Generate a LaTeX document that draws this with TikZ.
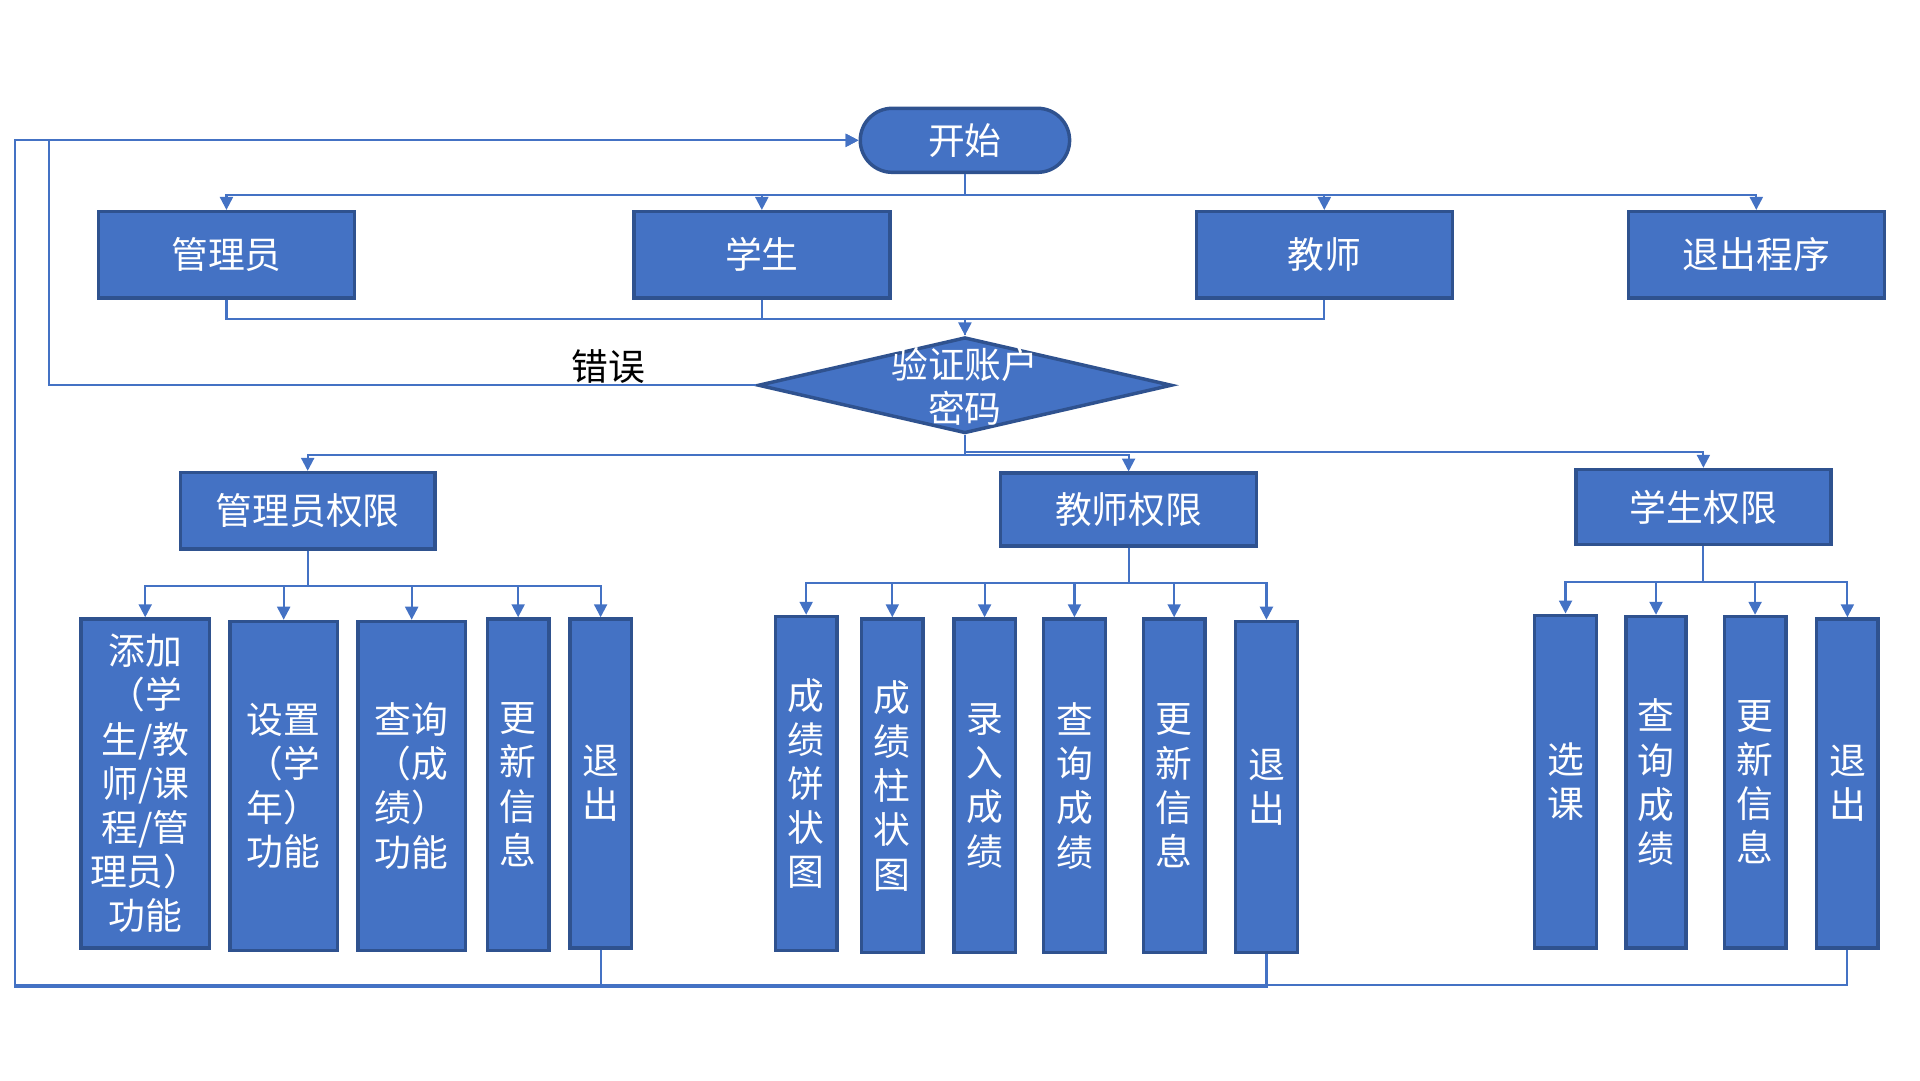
\documentclass[tikz,border=0pt]{standalone}
\usepackage{fontspec}
\setmainfont{Noto Sans CJK SC}
\usetikzlibrary{shapes.geometric,arrows.meta}
\definecolor{boxblue}{HTML}{4472C4}
\definecolor{boxedge}{HTML}{2F528F}
\tikzset{
  box/.style = {draw=boxedge, fill=boxblue, text=white, line width=0.8pt, inner sep=0pt,
                align=center, font=\fontsize{8.5}{10.2}\selectfont},
  link/.style = {draw=boxblue, line width=0.5pt, -{Triangle[length=3pt,width=3pt]}},
  wire/.style = {draw=boxblue, line width=0.5pt}
}
\begin{document}
\begin{tikzpicture}[x=0.01cm, y=-0.01cm]
  \useasboundingbox (0,0) rectangle (1560,878);
  % top row
  \node[box, rounded corners=0.26cm, minimum width=1.7cm, minimum height=0.52cm] (st) at (784,114) {开始};
  \node[box, minimum width=2.08cm, minimum height=0.7cm] (ad) at (184,207) {管理员};
  \node[box, minimum width=2.08cm, minimum height=0.7cm] (su) at (619,207) {学生};
  \node[box, minimum width=2.08cm, minimum height=0.7cm] (te) at (1076,207) {教师};
  \node[box, minimum width=2.08cm, minimum height=0.7cm] (qt) at (1427,207) {退出程序};
  \node[box, diamond, minimum width=3.36cm, minimum height=0.78cm] (dv) at (784,313) {};
  \node[text=white, align=center, font=\fontsize{8.5}{10.2}\selectfont] (dt) at (784,314) {验证账户\\密码};
  \node[font=\fontsize{8.5}{10.2}\selectfont] (err) at (494,298) {错误};
  % permissions
  \node[box, minimum width=2.07cm, minimum height=0.62cm] (pa) at (250,415) {管理员权限};
  \node[box, minimum width=2.08cm, minimum height=0.59cm] (pt) at (917,414) {教师权限};
  \node[box, minimum width=2.07cm, minimum height=0.61cm] (ps) at (1384,412) {学生权限};
  % leaves
  \foreach \n/\x/\y/\w/\h/\t in {
      a1/118/636.5/1.04/2.67/{添加\\（学\\生/教\\师/课\\程/管\\理员）\\功能},
      a2/230.5/638.5/0.87/2.67/{设置\\（学\\年）\\功能},
      a3/334.5/638.5/0.87/2.67/{查询\\（成\\绩）\\功能},
      a4/421/637.5/0.5/2.69/{更\\新\\信\\息},
      a5/488/636.5/0.5/2.67/{退\\出},
      t1/655/636.5/0.5/2.71/{成\\绩\\饼\\状\\图},
      t2/725/638.5/0.5/2.71/{成\\绩\\柱\\状\\图},
      t3/800/638.5/0.5/2.71/{录\\入\\成\\绩},
      t4/873/638.5/0.5/2.71/{查\\询\\成\\绩},
      t5/954/638.5/0.5/2.71/{更\\新\\信\\息},
      t6/1029/639.5/0.5/2.69/{退\\出},
      s1/1272/635/0.5/2.7/{选\\课},
      s2/1345.5/635.5/0.49/2.69/{查\\询\\成\\绩},
      s3/1426/635.5/0.5/2.69/{更\\新\\信\\息},
      s4/1501/636.5/0.5/2.67/{退\\出}}
    \node[box, minimum width=\w cm, minimum height=\h cm] (\n) at (\x,\y) {\t};
  % start to roles
  \foreach \r in {ad,su,te,qt}
    \draw[link] (st.south) -- ++(0,17) -| (\r.north);
  % roles to check
  \foreach \r in {ad,su,te}
    \draw[wire] (\r.south) -- ++(0,16) -| (dv.north);
  \draw[link] (su.south) ++(0,16) -| (dv.north);
  % error back to start
  \draw[link] (dv.west) -- ++(-575,0) |- (st.west);
  % check to permissions
  \draw[link] (dv.south) -- ++(0,16) -| (pa.north);
  \draw[link] (dv.south) -- ++(0,16) -| (pt.north);
  \draw[link] (dv.south) -- ++(0,14) -| (ps.north);
  % permissions to leaves
  \foreach \l in {a1,a2,a3,a4,a5}
    \draw[link] (pa.south) -- ++(0,29) -| (\l.north);
  \foreach \l in {t1,t2,t3,t4,t5,t6}
    \draw[link] (pt.south) -- ++(0,29) -| (\l.north);
  \foreach \l in {s1,s2,s3,s4}
    \draw[link] (ps.south) -- ++(0,29) -| (\l.north);
  % exits back to start
  \draw[link] (a5.south) -- ++(0,30) -| (12,114) -- (st.west);
  \draw[wire] (t6.south) |- (12,802);
  \draw[wire] (s4.south) |- (12,800);
\end{tikzpicture}
\end{document}
